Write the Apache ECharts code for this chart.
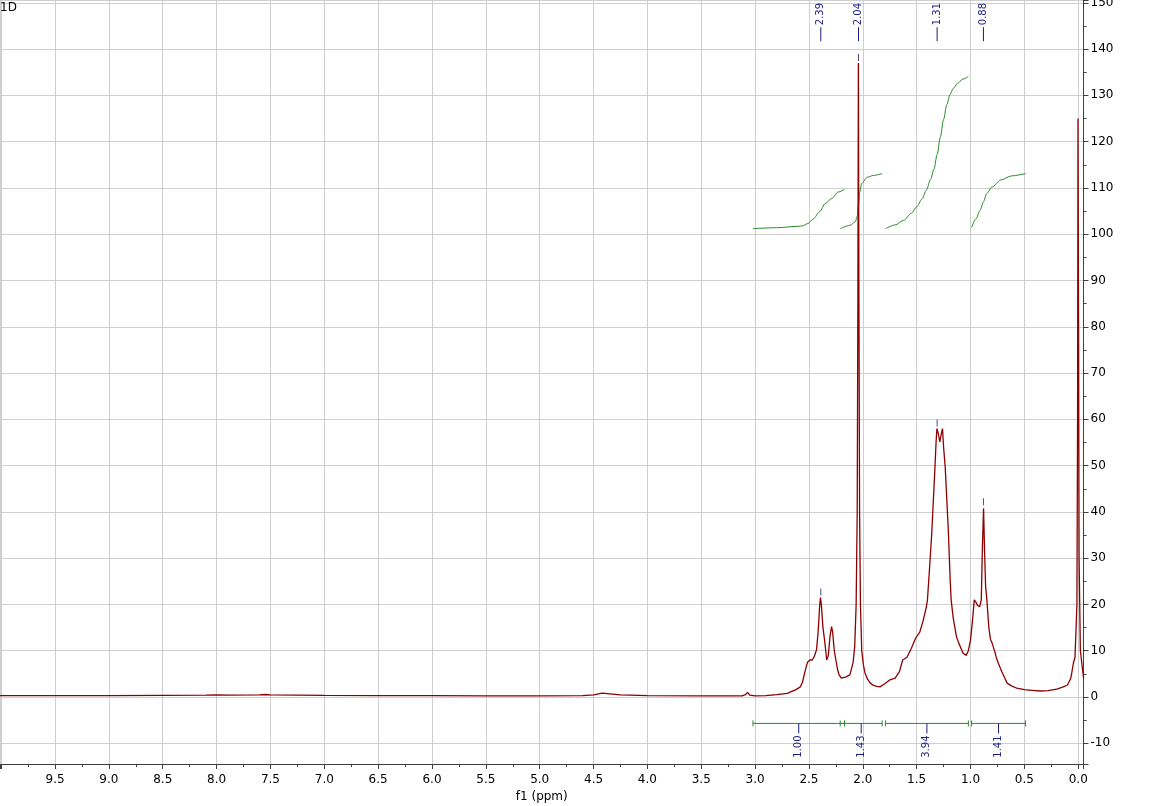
<!DOCTYPE html>
<html>
<head>
<meta charset="utf-8">
<script src="https://cdn.jsdelivr.net/npm/echarts@6/dist/echarts.min.js"></script>
<style>
html,body{margin:0;padding:0;background:#fff;}
#chart{width:1156px;height:806px;}
</style>
</head>
<body>
<div id="chart"></div>
<script>
// ---- spectrum (chemical shift in ppm, intensity) ----
const specPpm = [10.02,9.5,9.0,8.5,8.1,8.0,7.9,7.6,7.55,7.5,7.0,6.5,6.0,5.5,5.0,4.6,4.5,4.42,4.35,4.25,4.0,3.5,3.12,3.09,3.07,3.05,3.0,2.9,2.8,2.7,2.67,2.62,2.58,2.56,2.54,2.52,2.51,2.49,2.47,2.45,2.43,2.415,2.40,2.393,2.385,2.37,2.355,2.335,2.32,2.305,2.29,2.28,2.265,2.25,2.235,2.22,2.20,2.16,2.12,2.09,2.075,2.062,2.052,2.046,2.041,2.036,2.030,2.022,2.01,1.995,1.98,1.955,1.93,1.90,1.87,1.84,1.80,1.75,1.70,1.66,1.63,1.59,1.55,1.51,1.47,1.44,1.41,1.40,1.38,1.36,1.345,1.33,1.32,1.312,1.30,1.285,1.27,1.26,1.25,1.235,1.22,1.205,1.19,1.18,1.16,1.13,1.11,1.07,1.04,1.02,1.00,0.98,0.965,0.95,0.935,0.915,0.90,0.89,0.879,0.87,0.86,0.848,0.83,0.815,0.80,0.79,0.775,0.76,0.74,0.71,0.68,0.66,0.62,0.57,0.50,0.40,0.35,0.28,0.20,0.15,0.10,0.07,0.06,0.045,0.03,0.02,0.012,0.006,0.002,-0.003,-0.008,-0.02,-0.05];
const specInt = [0.3,0.3,0.3,0.35,0.4,0.45,0.4,0.45,0.55,0.45,0.35,0.3,0.3,0.25,0.25,0.3,0.45,0.85,0.7,0.45,0.3,0.25,0.25,0.5,1.0,0.4,0.25,0.3,0.5,0.8,1.1,1.6,2.2,3.2,5.2,7.0,7.6,8.0,8.0,8.8,10.2,14,20,21.5,20,15,12.3,8.0,9,13,15.2,14,10,8,6,4.8,4.1,4.3,4.8,7.5,11,20,40,85,137,85,40,20,10,7,5.2,3.8,3.0,2.5,2.3,2.2,2.8,3.7,4.1,5.5,8.0,8.6,10.5,12.7,14.1,16.5,19.5,21,28,35.4,42.5,49.7,55,58,57,55.1,57,58,54,49.7,42.5,35.4,26,21,17,13,11.7,9.5,9.0,10,12.3,17,21,20.5,19.8,19.5,21,32,40.8,32,24,21,15,12.5,11.7,11.3,9.8,8.5,7.2,5.5,4.0,3.0,2.4,1.9,1.6,1.4,1.3,1.4,1.7,2.1,2.6,4,5.2,7.3,8.6,9,20,60,125,80,30,10,4];

// ---- peak picking ----
const peakPpm = [2.39, 2.04, 1.31, 0.88];
const peakHeight = [21.5, 137, 58, 41];
const peakLabels = ['2.39', '2.04', '1.31', '0.88'];

// ---- integral curves ----
const int1Ppm = [3.02,2.80,2.60,2.56,2.51,2.46,2.40,2.35,2.29,2.23,2.17];
const int1Val = [101.2,101.4,101.7,101.8,102.3,103.3,104.9,106.6,107.7,109.1,109.7];
const int2Ppm = [2.21,2.12,2.07,2.05,2.04,2.03,2.01,1.96,1.90,1.82];
const int2Val = [101.2,101.9,102.7,104.0,106.5,109.0,111.0,112.3,112.7,113.1];
const int3Ppm = [1.79,1.70,1.62,1.55,1.50,1.45,1.41,1.37,1.34,1.31,1.28,1.25,1.22,1.19,1.16,1.12,1.07,1.02];
const int3Val = [101.2,102.0,103.0,104.5,105.9,107.6,109.5,111.9,114.0,117.2,121.0,124.8,128.0,130.2,131.5,132.6,133.5,134.1];
const int4Ppm = [0.99,0.95,0.91,0.88,0.85,0.80,0.72,0.62,0.49];
const int4Val = [101.4,103.3,105.2,107.0,108.8,110.2,111.7,112.6,113.1];

// ---- integration ranges and values ----
const intStart = [3.02, 2.21, 1.79, 0.99];
const intEnd = [2.17, 1.82, 1.02, 0.49];
const intLabels = ['1.00', '1.43', '3.94', '1.41'];

const FONT = '"DejaVu Sans", Verdana, sans-serif';
const RED = '#8b0000';
const GREEN = '#2a8a2a';
const NAVY = '#1c1c85';
const BAR_Y = -5.7;      // integration bar level (intensity units)
const TOP_LABEL_Y = 141.7; // base of the peak labels

const zip = (a, b) => a.map((v, i) => [v, b[i]]);
const onStep = (v, step) => Math.abs(v / step - Math.round(v / step)) < 1e-6;

const chart = echarts.init(document.getElementById('chart'), null, {renderer: 'canvas'});

const intCurve = (p, v) => ({
  type: 'line', data: zip(p, v), symbol: 'none', smooth: 0.3, smoothMonotone: 'x',
  lineStyle: {color: GREEN, width: 1}, silent: true, z: 3
});

chart.setOption({
  animation: false,
  backgroundColor: '#ffffff',
  title: {text: '1D', left: 0, top: 2, padding: 0, textStyle: {fontFamily: FONT, fontSize: 12, fontWeight: 'normal', color: '#000'}},
  grid: {left: 0, right: 72.5, top: 0, bottom: 42, containLabel: false, outerBoundsMode: 'none'},
  xAxis: {
    type: 'value', inverse: true, min: -0.049, max: 10.011, splitNumber: 20,
    name: 'f1 (ppm)', nameLocation: 'middle', nameGap: 27,
    nameTextStyle: {fontFamily: FONT, fontSize: 12, color: '#000'},
    axisLine: {show: true, onZero: false, lineStyle: {color: '#404040', width: 1}},
    axisTick: {show: true, length: 5, lineStyle: {color: '#404040'}},
    minorTick: {show: true, splitNumber: 2, length: 3, lineStyle: {color: '#404040'}},
    axisLabel: {fontFamily: FONT, fontSize: 12, color: '#000', margin: 10,
      formatter: v => ((v > 9.99 || !onStep(v, 0.5)) ? '' : Math.abs(v).toFixed(1))},
    splitLine: {show: true, lineStyle: {color: '#cfcfcf', width: 1}}
  },
  yAxis: {
    type: 'value', position: 'right', min: -14.47, max: 150.6, splitNumber: 16,
    axisLine: {show: true, onZero: false, lineStyle: {color: '#404040', width: 1}},
    axisTick: {show: true, length: 5, lineStyle: {color: '#404040'}},
    minorTick: {show: true, splitNumber: 2, length: 3, lineStyle: {color: '#404040'}},
    axisLabel: {fontFamily: FONT, fontSize: 12, color: '#000', margin: 7,
      formatter: v => (onStep(v, 10) ? String(Math.round(v)) : '')},
    splitLine: {show: true, lineStyle: {color: '#cfcfcf', width: 1}}
  },
  series: [
    {
      type: 'line', data: zip(specPpm, specInt), symbol: 'none', sampling: null,
      lineStyle: {color: RED, width: 1.3}, silent: true, z: 4
    },
    intCurve(int1Ppm, int1Val),
    intCurve(int2Ppm, int2Val),
    intCurve(int3Ppm, int3Val),
    intCurve(int4Ppm, int4Val),
    { // integration bars
      type: 'custom', silent: true, z: 5,
      data: zip(intStart, intEnd),
      renderItem: (params, api) => {
        const s = api.coord([api.value(0), BAR_Y]);
        const e = api.coord([api.value(1), BAR_Y]);
        const st = {stroke: GREEN, lineWidth: 1};
        return {type: 'group', children: [
          {type: 'line', shape: {x1: s[0], y1: s[1], x2: e[0], y2: e[1]}, style: st},
          {type: 'line', shape: {x1: s[0], y1: s[1] - 3, x2: s[0], y2: s[1] + 3}, style: st},
          {type: 'line', shape: {x1: e[0], y1: e[1] - 3, x2: e[0], y2: e[1] + 3}, style: st}
        ]};
      }
    },
    { // integral values
      type: 'custom', silent: true, z: 6,
      data: intStart.map((s, i) => [(s + intEnd[i]) / 2]),
      renderItem: (params, api) => {
        const p = api.coord([api.value(0), BAR_Y]);
        return {type: 'group', children: [
          {type: 'line', shape: {x1: p[0], y1: p[1], x2: p[0], y2: p[1] + 10}, style: {stroke: NAVY, lineWidth: 1}},
          {type: 'text', x: p[0], y: p[1] + 12, rotation: Math.PI / 2,
            style: {text: intLabels[params.dataIndex], fill: NAVY, font: '10px ' + FONT, align: 'right', verticalAlign: 'middle'}}
        ]};
      }
    },
    { // peak markers and labels
      type: 'custom', silent: true, z: 6,
      data: zip(peakPpm, peakHeight),
      renderItem: (params, api) => {
        const pk = api.coord([api.value(0), api.value(1)]);
        const lb = api.coord([api.value(0), TOP_LABEL_Y]);
        return {type: 'group', children: [
          {type: 'line', shape: {x1: pk[0], y1: pk[1] - 2, x2: pk[0], y2: pk[1] - 9}, style: {stroke: '#4a4a8a', lineWidth: 1}},
          {type: 'line', shape: {x1: lb[0], y1: lb[1], x2: lb[0], y2: lb[1] - 14}, style: {stroke: NAVY, lineWidth: 1}},
          {type: 'text', x: lb[0], y: lb[1] - 16, rotation: Math.PI / 2,
            style: {text: peakLabels[params.dataIndex], fill: NAVY, font: '10px ' + FONT, align: 'left', verticalAlign: 'middle'}}
        ]};
      }
    }
  ]
});
</script>
</body>
</html>
